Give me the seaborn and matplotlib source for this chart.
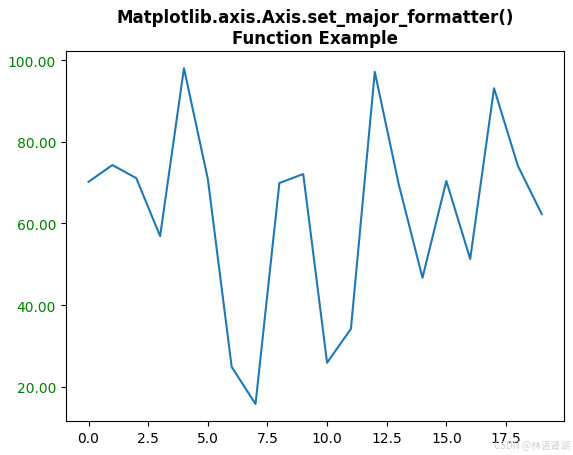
import matplotlib
matplotlib.use("Agg")
import matplotlib.pyplot as plt
import seaborn as sns
import numpy as np

xs = list(range(20))
ys = [70.2, 74.3, 71.1, 56.9, 98.0, 70.9, 24.9, 15.8, 69.9, 72.1,
      25.9, 34.2, 97.1, 69.7, 46.7, 70.4, 51.3, 93.1, 74.1, 62.3]

fig, ax = plt.subplots(figsize=(5.73, 4.56), dpi=100)
sns.lineplot(x=xs, y=ys, ax=ax)
ax.yaxis.set_major_formatter('{x:.2f}')
ax.tick_params(axis='y', labelcolor='green')
ax.set_title("Matplotlib.axis.Axis.set_major_formatter()\nFunction Example",
             fontweight='bold')
fig.subplots_adjust(left=0.115, right=0.985, top=0.885, bottom=0.075)
fig.text(0.995, 0.01, "CSDN @林语肾湖", ha='right', va='bottom', fontsize=7,
         color='#d0d0d0', family=['Noto Sans CJK SC', 'DejaVu Sans'])
fig.savefig("out.png", dpi=100)
